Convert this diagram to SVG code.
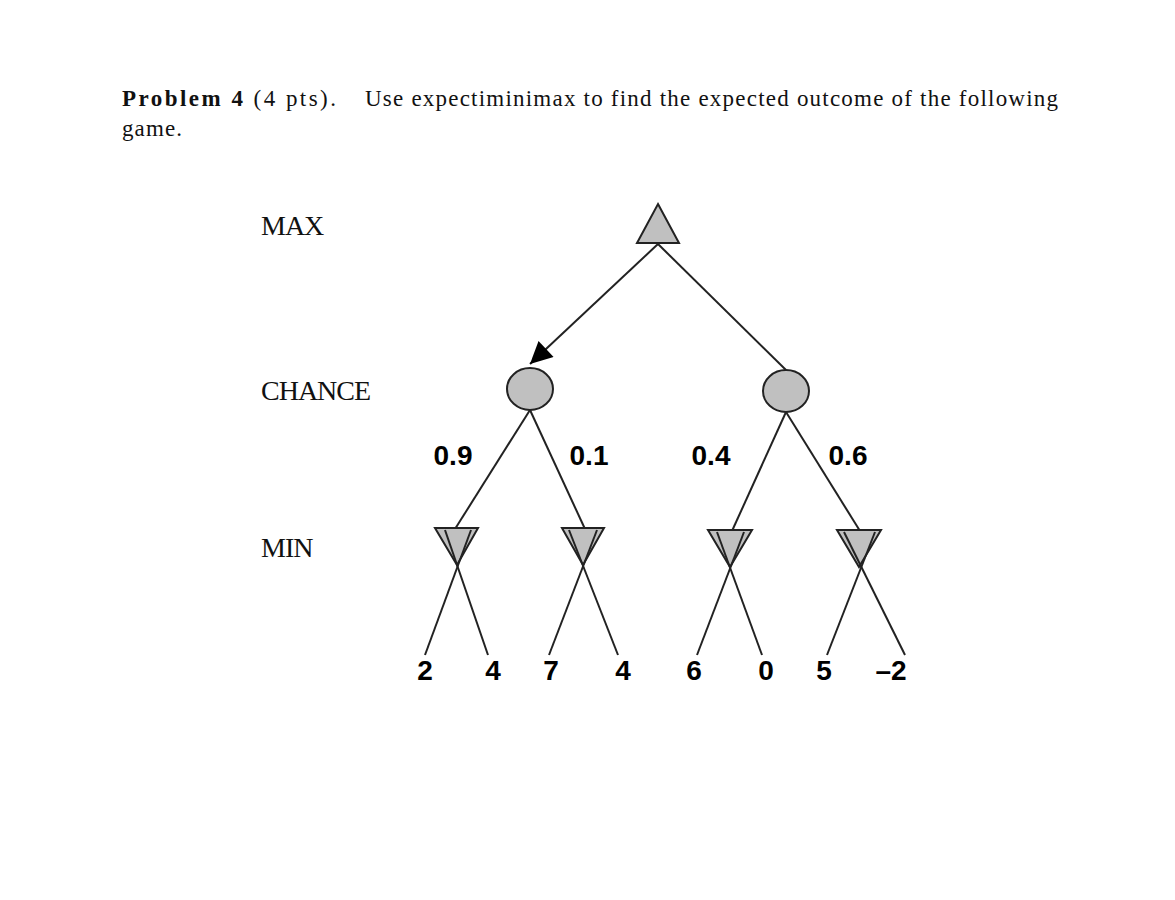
<svg xmlns="http://www.w3.org/2000/svg" width="1175" height="900" viewBox="0 0 1175 900">
<style>
.hdr{font-family:"Liberation Serif","DejaVu Serif",serif;font-size:23px;fill:#111}
.lvl{font-family:"Liberation Serif","DejaVu Serif",serif;font-size:28px;fill:#111;letter-spacing:-1px}
.num{font-family:"Liberation Sans",Arial,sans-serif;font-size:28px;font-weight:bold;fill:#000;text-anchor:middle}
.node{fill:#c0c0c0;stroke:#222;stroke-width:2}
.edge{stroke:#222;stroke-width:2;fill:none}
</style>
<defs><marker id="ah2" viewBox="0 0 10 10" refX="10" refY="5" markerWidth="30" markerHeight="22" markerUnits="userSpaceOnUse" orient="auto"><path d="M0,0 L10,5 L0,10 z" fill="#000"/></marker></defs>
<rect width="1175" height="900" fill="#fff"/>
<text class="hdr" x="122" y="106" textLength="214" lengthAdjust="spacing"><tspan font-weight="bold">Problem 4</tspan> (4 pts).</text>
<text class="hdr" x="365" y="106" textLength="693" lengthAdjust="spacing">Use expectiminimax to find the expected outcome of the following</text>
<text class="hdr" x="122" y="136" textLength="60" lengthAdjust="spacing">game.</text>
<text class="lvl" x="261" y="235">MAX</text>
<text class="lvl" x="261" y="400">CHANCE</text>
<text class="lvl" x="261" y="557">MIN</text>
<g id="connectors">
<line class="edge" x1="658" y1="244" x2="530" y2="364" marker-end="url(#ah2)"/>
<line class="edge" x1="658" y1="244" x2="786" y2="370"/>
<line class="edge" x1="530" y1="410" x2="455" y2="529"/>
<line class="edge" x1="530" y1="410" x2="585" y2="529"/>
<line class="edge" x1="786" y1="412" x2="732" y2="531"/>
<line class="edge" x1="786" y1="412" x2="860" y2="531"/>
</g>
<g id="max"><polygon class="node" points="658,204 679,243 637,243"/></g>
<g id="chance1"><ellipse class="node" cx="530" cy="389" rx="23" ry="21"/></g>
<g id="chance2"><ellipse class="node" cx="786" cy="391" rx="23" ry="21"/></g>
<g id="min1"><polygon class="node" points="435,528 478,528 457,565"/></g>
<g id="min2"><polygon class="node" points="562,528 604,528 583,565"/></g>
<g id="min3"><polygon class="node" points="708,530 752,530 730,567"/></g>
<g id="min4"><polygon class="node" points="837,530 881,530 859,567"/></g>
<g id="leaf-edges">
<line class="edge" x1="471" y1="530" x2="425" y2="655"/>
<line class="edge" x1="445" y1="530" x2="488" y2="655"/>
<line class="edge" x1="597" y1="530" x2="549" y2="655"/>
<line class="edge" x1="569" y1="530" x2="618" y2="655"/>
<line class="edge" x1="744" y1="532" x2="697" y2="655"/>
<line class="edge" x1="717" y1="532" x2="762" y2="655"/>
<line class="edge" x1="875" y1="532" x2="827" y2="655"/>
<line class="edge" x1="844" y1="532" x2="905" y2="655"/>
</g>
<g id="labels">
<text class="num" x="453" y="465">0.9</text>
<text class="num" x="589" y="465">0.1</text>
<text class="num" x="711" y="465">0.4</text>
<text class="num" x="848" y="465">0.6</text>
</g>
<g id="leaves">
<text class="num" x="425" y="680">2</text>
<text class="num" x="493" y="680">4</text>
<text class="num" x="551" y="680">7</text>
<text class="num" x="623" y="680">4</text>
<text class="num" x="694" y="680">6</text>
<text class="num" x="766" y="680">0</text>
<text class="num" x="824" y="680">5</text>
<text class="num" x="891" y="680">–2</text>
</g>
</svg>
